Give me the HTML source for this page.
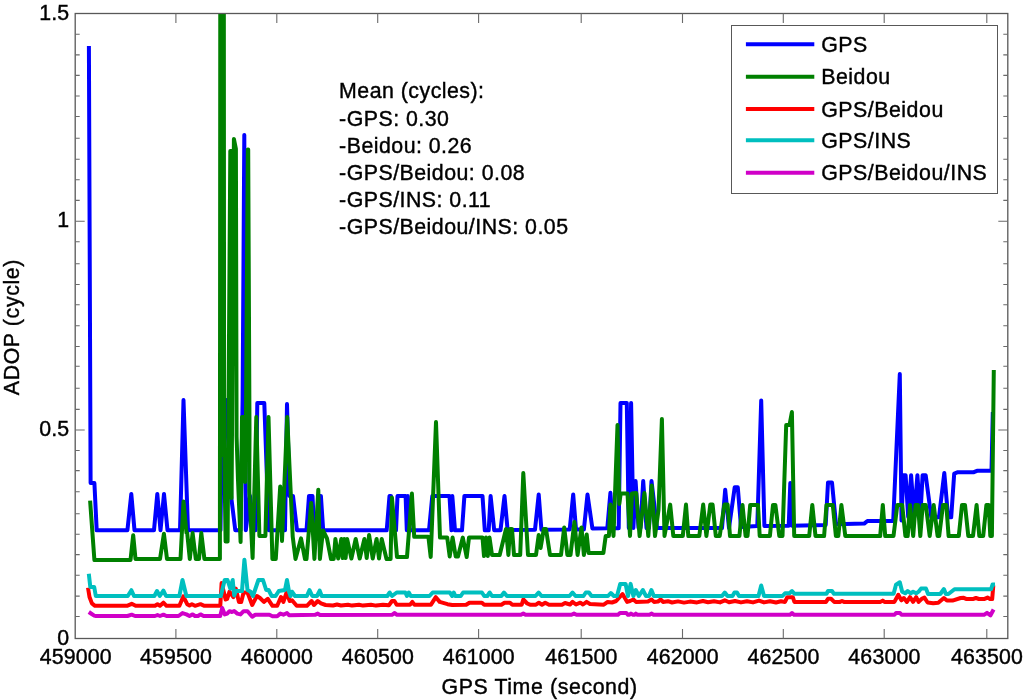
<!DOCTYPE html>
<html lang="en">
<head>
<meta charset="utf-8">
<title>ADOP vs GPS Time</title>
<style>
html,body{margin:0;padding:0;background:#fff;}
body{width:1024px;height:700px;overflow:hidden;}
svg{display:block;}
text{font-family:"Liberation Sans",Arial,Helvetica,sans-serif;font-size:21.33px;fill:#000;stroke:#000;stroke-width:0.4px;letter-spacing:0.42px;}
.tk{letter-spacing:0.15px;}
.ln{fill:none;stroke-width:4.0;stroke-linejoin:round;stroke-linecap:butt;}
.ax{stroke:#585858;stroke-width:1.3;fill:none;}
</style>
</head>
<body>
<svg width="1024" height="700" viewBox="0 0 1024 700">
<rect x="0" y="0" width="1024" height="700" fill="#ffffff"/>
<defs><clipPath id="plotclip"><rect x="75.2" y="13.5" width="932.6" height="625.0"/></clipPath></defs>
<g clip-path="url(#plotclip)">
<polyline class="ln" stroke="#0000ff" points="88.9,46.0 90.6,483.0 94.4,483.0 96.7,530.3 127.4,530.3 131.3,494.0 134.5,530.3 154.0,530.3 157.3,494.0 160.5,530.3 164.0,494.0 167.5,530.3 180.0,530.3 183.5,400.0 188.0,530.3 220.5,530.3 222.3,400.0 226.3,400.0 229.5,470.0 230.3,437.0 231.2,497.0 235.3,530.3 240.5,530.3 242.6,400.0 244.3,135.0 245.8,530.3 250.0,496.0 252.0,530.3 255.5,530.3 257.3,403.0 264.3,403.0 268.8,530.3 285.0,530.3 287.0,404.0 289.5,496.0 293.0,496.0 297.0,530.3 306.5,530.3 309.0,496.0 312.5,496.0 314.2,530.3 317.0,530.3 318.5,496.0 320.9,496.0 323.2,530.3 386.7,530.3 389.5,496.0 391.0,496.0 393.5,530.3 396.0,530.3 397.5,496.0 405.6,496.0 406.8,530.3 407.8,496.0 409.8,530.3 429.0,530.3 432.3,496.0 449.5,496.0 451.5,530.3 452.3,496.0 455.0,530.3 462.0,530.3 464.4,496.0 482.5,496.0 484.8,530.3 488.7,530.3 490.6,496.0 494.2,530.3 500.5,530.3 504.5,496.0 507.6,530.0 535.0,529.7 538.7,494.5 541.4,529.7 569.7,529.5 573.2,494.5 576.0,529.5 583.9,529.5 587.5,494.5 592.4,528.5 607.3,528.3 610.4,492.8 613.0,528.3 618.7,528.3 620.5,403.0 626.8,403.0 628.8,528.0 631.1,403.0 633.4,528.0 635.6,481.0 638.5,528.0 640.5,528.0 643.2,481.0 646.5,528.0 649.0,528.0 651.5,481.0 657.0,528.0 722.0,528.0 725.2,489.7 729.0,528.0 734.7,487.3 737.8,487.3 741.0,527.0 757.3,526.0 761.2,400.5 764.4,526.0 788.7,525.8 790.3,483.0 792.0,525.7 825.7,525.0 828.0,482.6 832.0,482.6 836.0,524.3 864.2,523.6 867.4,521.0 893.2,521.0 899.8,374.0 901.5,520.5 903.3,475.2 905.6,475.2 908.2,517.0 911.1,475.2 914.2,517.0 917.4,475.2 920.3,517.0 922.6,475.2 925.7,475.2 931.3,517.3 939.0,517.3 944.3,473.0 948.1,517.3 951.2,517.3 954.2,473.6 957.9,472.2 973.8,472.2 977.0,470.8 991.5,470.8 992.8,412.0"/>
<polyline class="ln" stroke="#008000" points="90.1,500.7 94.4,560.0 130.5,560.0 133.2,535.3 135.5,559.0 160.0,559.0 163.9,533.7 167.0,559.0 180.5,559.0 183.5,501.4 186.5,533.0 187.2,533.0 189.8,559.0 192.6,533.0 195.8,559.0 199.0,559.0 201.3,533.0 204.4,559.0 219.9,559.0 220.3,-60.0 222.0,455.0 223.8,-60.0 224.1,440.0 225.6,541.5 227.6,541.5 230.3,151.0 231.4,151.0 231.6,498.0 232.8,300.0 233.9,139.0 235.9,149.0 236.6,437.0 238.0,480.0 240.6,542.0 242.0,417.0 244.3,417.0 245.1,482.0 246.0,417.0 247.8,149.5 248.2,149.5 249.5,430.0 249.3,491.0 252.6,558.0 256.3,417.0 259.4,536.0 265.4,536.0 268.5,417.0 272.4,559.0 275.8,559.0 280.2,486.5 282.0,541.0 287.2,417.0 291.4,507.0 292.7,536.5 295.5,559.0 301.0,538.4 305.0,559.0 306.5,559.0 311.2,503.0 314.4,559.0 318.3,489.7 319.9,559.0 323.0,530.5 327.0,538.5 331.0,559.0 333.7,559.0 335.4,539.0 338.2,558.5 341.3,539.0 342.7,558.0 344.2,539.0 345.6,558.0 347.1,539.0 351.4,558.5 355.7,539.0 359.7,558.5 364.4,539.0 366.7,558.0 369.1,535.0 372.7,558.5 376.6,539.0 379.0,558.5 381.7,539.0 386.5,559.0 390.6,559.0 391.9,497.5 397.0,557.0 407.0,557.0 411.9,493.6 414.2,536.8 428.4,536.8 430.7,557.0 436.0,422.0 440.0,537.6 447.2,537.6 449.7,556.5 452.6,537.6 455.7,556.5 458.0,556.5 462.8,537.6 466.7,557.0 469.0,537.6 482.5,537.6 484.0,556.0 486.0,537.6 487.8,556.0 489.5,537.6 492.0,555.0 499.7,555.0 506.0,529.0 508.4,555.0 510.0,529.0 512.0,529.0 514.0,555.0 520.2,555.0 523.3,473.0 528.0,555.0 536.0,555.0 538.7,535.0 540.6,548.0 543.8,529.0 546.0,529.0 550.0,555.0 561.0,555.0 564.2,527.4 567.4,555.0 570.5,555.0 574.4,522.0 577.6,555.0 581.5,527.4 583.9,555.0 586.7,534.5 588.6,553.0 603.4,553.0 605.7,536.0 608.9,536.0 610.4,504.6 613.5,536.0 617.5,425.0 619.3,504.0 620.7,493.6 627.5,493.6 630.0,536.0 632.0,493.6 636.2,493.0 639.6,536.0 644.4,493.0 648.3,536.0 651.7,485.5 655.0,536.0 658.5,510.0 661.9,419.0 664.5,536.0 670.2,504.6 673.3,536.0 682.8,536.0 686.0,504.6 688.3,536.0 699.3,536.0 703.2,504.6 706.4,536.0 710.3,504.6 712.6,504.6 715.8,536.0 719.7,536.0 724.4,504.6 727.6,504.6 730.0,536.0 739.4,536.0 742.5,505.0 745.6,536.0 747.5,536.0 750.2,505.0 758.0,505.0 759.7,536.0 769.9,536.0 773.0,505.0 775.4,505.0 779.3,536.0 782.5,536.0 786.2,425.0 789.5,425.0 791.9,412.0 794.2,536.0 809.2,536.0 812.3,505.0 815.5,536.0 824.1,536.0 826.5,505.0 832.8,505.0 835.9,536.0 838.3,536.0 841.4,505.0 845.3,536.0 880.2,536.0 882.8,505.0 885.2,536.0 893.5,536.0 897.3,505.0 902.2,505.0 905.4,536.0 907.7,536.0 910.0,505.0 913.2,536.0 915.6,505.0 918.0,505.0 920.3,536.0 922.7,505.0 925.8,505.0 929.7,536.0 933.7,505.0 937.6,536.0 939.2,536.0 943.0,505.0 946.3,505.0 948.6,536.0 958.8,536.0 962.0,505.0 965.0,505.0 968.3,536.0 973.0,536.0 976.6,505.0 979.3,536.0 983.2,536.0 986.4,505.0 988.7,505.0 990.3,536.0 991.9,536.0 993.8,370.0"/>
<polyline class="ln" stroke="#ff0000" points="88.0,587.8 89.5,597.0 91.9,603.4 95.0,605.8 127.0,605.8 131.7,603.8 135.6,605.8 155.0,605.8 157.5,604.2 160.0,605.8 163.4,602.7 166.5,605.8 179.4,605.8 183.3,596.4 187.2,604.2 189.5,605.5 191.9,604.2 195.0,605.8 200.5,604.2 204.4,605.8 220.3,605.8 221.6,583.0 225.6,599.5 227.2,598.8 229.5,591.7 233.4,597.2 235.8,588.6 238.9,601.9 241.2,601.9 243.6,592.5 247.5,592.5 252.2,605.0 256.9,596.0 260.0,598.0 263.9,601.9 267.8,598.8 272.5,605.8 277.2,605.8 281.0,597.0 283.4,601.9 286.6,592.5 289.7,601.0 292.0,600.3 296.7,605.8 306.9,605.8 311.6,601.0 313.9,605.0 317.8,601.0 321.0,603.4 325.6,605.0 333.0,605.5 337.0,604.5 341.0,605.5 348.0,604.7 352.0,605.6 359.0,604.7 363.0,605.6 371.0,604.8 376.0,605.6 383.0,604.8 388.9,605.3 392.0,601.0 394.4,601.0 396.7,604.7 410.0,604.7 412.3,601.9 414.5,604.7 431.0,604.7 435.8,597.2 439.7,601.9 447.5,604.2 452.2,605.0 466.2,604.7 469.4,602.7 481.9,602.7 484.2,604.7 501.4,604.7 504.5,602.7 510.0,602.7 512.3,604.7 521.7,604.7 523.3,599.5 527.2,603.5 530.0,604.7 536.0,604.7 538.9,602.7 542.0,604.7 545.2,602.7 549.0,604.7 562.0,604.7 565.0,603.0 570.0,604.5 572.5,601.9 576.0,604.5 580.3,602.7 583.0,604.5 586.6,601.9 590.0,604.0 603.8,604.7 607.7,601.9 612.0,602.5 616.2,601.0 622.5,594.0 627.2,601.9 630.0,601.0 633.4,599.5 636.0,601.9 648.0,601.5 651.4,599.5 654.0,601.9 658.0,601.5 660.8,599.5 663.0,601.9 668.0,601.2 672.0,602.5 678.0,601.4 684.0,602.6 690.0,601.6 697.0,602.4 703.0,601.0 708.0,602.3 714.0,601.2 720.0,602.4 724.8,600.3 729.0,602.3 735.0,601.0 741.0,602.4 747.0,601.2 753.0,602.4 759.0,600.6 764.0,602.4 770.0,601.3 776.0,602.5 781.0,601.3 785.0,601.9 787.3,597.2 792.8,597.2 794.4,601.9 826.0,601.9 828.0,598.8 831.0,598.8 834.2,601.9 840.0,601.9 842.0,601.0 844.0,601.9 880.5,601.9 882.7,600.6 884.5,601.9 894.4,601.9 898.3,594.8 901.4,600.3 903.8,598.0 906.9,601.9 910.0,597.2 913.1,601.9 916.2,597.2 918.6,601.9 921.7,598.8 924.4,597.6 927.6,602.5 933.2,603.3 938.3,602.8 943.9,598.0 946.9,600.6 952.5,600.6 960.6,598.0 963.7,597.8 966.7,599.1 972.8,599.1 975.9,598.0 978.9,599.0 984.0,599.1 987.5,597.6 990.0,599.0 992.2,599.0 993.3,585.4"/>
<polyline class="ln" stroke="#00bfbf" points="88.8,573.8 90.3,587.0 94.2,587.0 95.8,596.0 127.8,596.0 131.4,590.2 134.0,596.0 154.4,596.0 157.0,591.0 159.8,596.0 163.4,590.6 166.0,596.0 179.4,596.0 182.5,580.0 186.4,596.0 220.8,596.0 224.7,580.0 227.5,580.0 230.3,588.6 232.7,580.0 234.2,595.6 235.8,591.0 242.0,591.0 244.4,559.7 247.5,590.0 250.6,591.7 253.0,596.0 258.4,580.0 263.0,580.0 266.2,590.0 268.6,590.0 271.7,596.0 275.6,596.0 278.8,591.0 285.0,590.0 287.0,580.0 289.0,591.7 290.5,596.0 292.0,591.7 295.0,596.0 306.9,596.0 309.5,590.0 312.3,596.0 317.0,596.0 319.7,590.6 321.7,596.0 387.3,596.0 389.7,592.5 392.0,596.0 396.7,592.5 405.3,592.5 406.9,596.0 408.8,592.5 410.8,596.0 429.5,596.0 432.7,592.5 449.8,592.5 452.2,596.0 453.8,592.5 455.3,596.0 460.8,596.0 463.1,592.5 481.9,592.5 484.2,596.0 487.3,596.0 489.7,592.5 492.0,596.0 501.4,596.0 504.0,592.5 506.9,596.0 535.5,596.0 538.6,592.5 541.5,596.0 569.5,596.0 572.5,592.5 575.5,596.0 583.5,596.0 585.8,592.5 588.9,592.5 591.5,596.0 608.0,596.0 610.8,593.0 613.9,596.0 617.0,596.0 620.2,583.9 625.6,583.9 628.0,596.0 630.6,583.9 633.4,596.0 635.8,590.0 638.9,596.0 642.8,590.0 646.0,596.0 649.0,596.0 651.4,590.0 653.8,596.0 722.0,596.0 724.8,592.5 727.5,596.0 732.5,596.0 734.5,592.5 737.0,592.5 739.0,596.0 758.5,596.0 761.2,585.5 764.0,596.0 782.5,596.0 785.0,593.3 789.5,593.3 792.0,591.0 794.4,593.8 826.5,593.8 828.0,591.0 832.0,591.0 834.0,593.8 893.6,593.8 896.0,584.7 899.8,582.3 902.2,591.7 905.3,593.3 907.7,591.0 910.8,593.3 913.1,591.7 916.2,593.3 918.6,591.7 921.0,588.6 926.0,588.6 928.1,594.0 940.3,594.0 943.9,589.0 945.9,594.0 948.4,594.0 954.5,589.2 991.1,589.2 992.6,584.4 995.0,584.4"/>
<polyline class="ln" stroke="#d000c8" points="88.8,612.0 91.0,613.5 94.2,615.6 96.0,616.0 127.5,616.0 131.7,614.7 135.0,616.0 155.0,616.0 157.5,615.0 160.0,616.0 163.4,614.7 166.5,616.0 178.5,616.0 182.5,613.1 186.4,614.4 189.5,616.0 192.7,614.4 195.0,616.0 198.0,616.0 200.5,614.4 203.6,616.0 220.2,616.0 222.2,608.0 224.8,614.4 227.2,613.6 229.5,611.2 231.9,612.0 234.2,611.0 237.3,613.6 240.5,614.4 243.6,611.2 247.5,611.2 252.2,616.7 255.3,614.7 269.4,614.7 272.5,616.2 277.2,616.2 280.3,613.6 283.4,614.7 287.0,613.0 289.0,615.2 315.0,614.8 317.8,613.6 320.0,615.0 392.0,614.8 394.7,613.0 397.0,614.8 521.0,614.8 523.3,613.6 525.5,614.8 571.5,614.8 574.0,613.6 576.5,614.8 618.0,614.8 620.0,613.0 626.4,613.0 628.0,614.8 629.5,614.8 631.0,613.6 633.0,614.8 634.5,614.8 635.8,613.6 637.5,614.8 649.5,614.8 651.4,613.6 653.5,614.8 790.0,614.8 792.0,613.0 794.0,614.8 894.5,614.8 896.0,613.0 900.0,613.0 901.5,614.8 984.0,614.8 987.0,612.8 990.5,615.3 993.6,609.5"/>
</g>
<g class="ax">
<rect x="75.2" y="13.5" width="932.6" height="625.0"/>
<path d="M175.9,638.5V629.0M175.9,13.5V23.0M276.8,638.5V629.0M276.8,13.5V23.0M377.7,638.5V629.0M377.7,13.5V23.0M478.6,638.5V629.0M478.6,13.5V23.0M581.2,638.5V629.0M581.2,13.5V23.0M682.5,638.5V629.0M682.5,13.5V23.0M783.3,638.5V629.0M783.3,13.5V23.0M884.2,638.5V629.0M884.2,13.5V23.0M986.8,638.5V629.0M986.8,13.5V23.0M75.2,430.0H84.7M1007.8,430.0H998.3M75.2,221.2H84.7M1007.8,221.2H998.3M75.2,34.3H79.7M1007.8,34.3H1003.3M75.2,54.9H79.7M1007.8,54.9H1003.3M75.2,75.4H79.7M1007.8,75.4H1003.3M75.2,96.0H79.7M1007.8,96.0H1003.3M75.2,116.5H79.7M1007.8,116.5H1003.3M75.2,138.3H79.7M1007.8,138.3H1003.3M75.2,159.3H79.7M1007.8,159.3H1003.3M75.2,179.7H79.7M1007.8,179.7H1003.3M75.2,200.4H79.7M1007.8,200.4H1003.3M75.2,241.8H79.7M1007.8,241.8H1003.3M75.2,263.8H79.7M1007.8,263.8H1003.3M75.2,284.5H79.7M1007.8,284.5H1003.3M75.2,304.7H79.7M1007.8,304.7H1003.3M75.2,325.7H79.7M1007.8,325.7H1003.3M75.2,346.5H79.7M1007.8,346.5H1003.3M75.2,366.3H79.7M1007.8,366.3H1003.3M75.2,388.3H79.7M1007.8,388.3H1003.3M75.2,409.4H79.7M1007.8,409.4H1003.3M75.2,450.5H79.7M1007.8,450.5H1003.3M75.2,470.6H79.7M1007.8,470.6H1003.3M75.2,491.7H79.7M1007.8,491.7H1003.3M75.2,513.7H79.7M1007.8,513.7H1003.3M75.2,534.2H79.7M1007.8,534.2H1003.3M75.2,554.6H79.7M1007.8,554.6H1003.3M75.2,575.3H79.7M1007.8,575.3H1003.3M75.2,596.1H79.7M1007.8,596.1H1003.3M75.2,616.5H79.7M1007.8,616.5H1003.3" style="stroke:#6a6a6a;stroke-width:1.1"/>
</g>
<text class="tk" x="75.8" y="664.2" text-anchor="middle">459000</text>
<text class="tk" x="176.1" y="664.2" text-anchor="middle">459500</text>
<text class="tk" x="277.0" y="664.2" text-anchor="middle">460000</text>
<text class="tk" x="377.9" y="664.2" text-anchor="middle">460500</text>
<text class="tk" x="478.8" y="664.2" text-anchor="middle">461000</text>
<text class="tk" x="581.4" y="664.2" text-anchor="middle">461500</text>
<text class="tk" x="682.7" y="664.2" text-anchor="middle">462000</text>
<text class="tk" x="783.5" y="664.2" text-anchor="middle">462500</text>
<text class="tk" x="884.4" y="664.2" text-anchor="middle">463000</text>
<text class="tk" x="987.0" y="664.2" text-anchor="middle">463500</text>
<text class="tk" x="69.3" y="644.5" text-anchor="end">0</text>
<text class="tk" x="69.3" y="436.0" text-anchor="end">0.5</text>
<text class="tk" x="69.3" y="227.2" text-anchor="end">1</text>
<text class="tk" x="69.3" y="19.5" text-anchor="end">1.5</text>
<text x="539.6" y="693.8" text-anchor="middle" style="letter-spacing:0.6px">GPS Time (second)</text>
<text transform="translate(19.4,327.1) rotate(-90)" text-anchor="middle" style="letter-spacing:0.62px">ADOP (cycle)</text>
<text x="339.1" y="98.2" style="letter-spacing:0.48px">Mean (cycles):</text>
<text x="339.1" y="125.5" style="letter-spacing:0.48px">-GPS: 0.30</text>
<text x="339.1" y="152.6" style="letter-spacing:0.48px">-Beidou: 0.26</text>
<text x="339.1" y="179.9" style="letter-spacing:0.48px">-GPS/Beidou: 0.08</text>
<text x="339.1" y="206.7" style="letter-spacing:0.48px">-GPS/INS: 0.11</text>
<text x="339.1" y="234.1" style="letter-spacing:0.48px">-GPS/Beidou/INS: 0.05</text>
<rect x="731.5" y="25.5" width="265.8" height="168" fill="#ffffff" stroke="#585858" stroke-width="1" shape-rendering="crispEdges"/>
<line x1="745.9" y1="44.3" x2="814.3" y2="44.3" stroke="#0000ff" stroke-width="4.0"/>
<text x="821.2" y="51.9" style="letter-spacing:0.52px">GPS</text>
<line x1="745.9" y1="76.8" x2="814.3" y2="76.8" stroke="#008000" stroke-width="4.0"/>
<text x="821.2" y="84.4" style="letter-spacing:0.52px">Beidou</text>
<line x1="745.9" y1="109.0" x2="814.3" y2="109.0" stroke="#ff0000" stroke-width="4.0"/>
<text x="821.2" y="116.6" style="letter-spacing:0.52px">GPS/Beidou</text>
<line x1="745.9" y1="140.3" x2="814.3" y2="140.3" stroke="#00bfbf" stroke-width="4.0"/>
<text x="821.2" y="147.9" style="letter-spacing:0.52px">GPS/INS</text>
<line x1="745.9" y1="172.8" x2="814.3" y2="172.8" stroke="#d000c8" stroke-width="4.0"/>
<text x="821.2" y="180.4" style="letter-spacing:0.52px">GPS/Beidou/INS</text>
</svg>
</body>
</html>
